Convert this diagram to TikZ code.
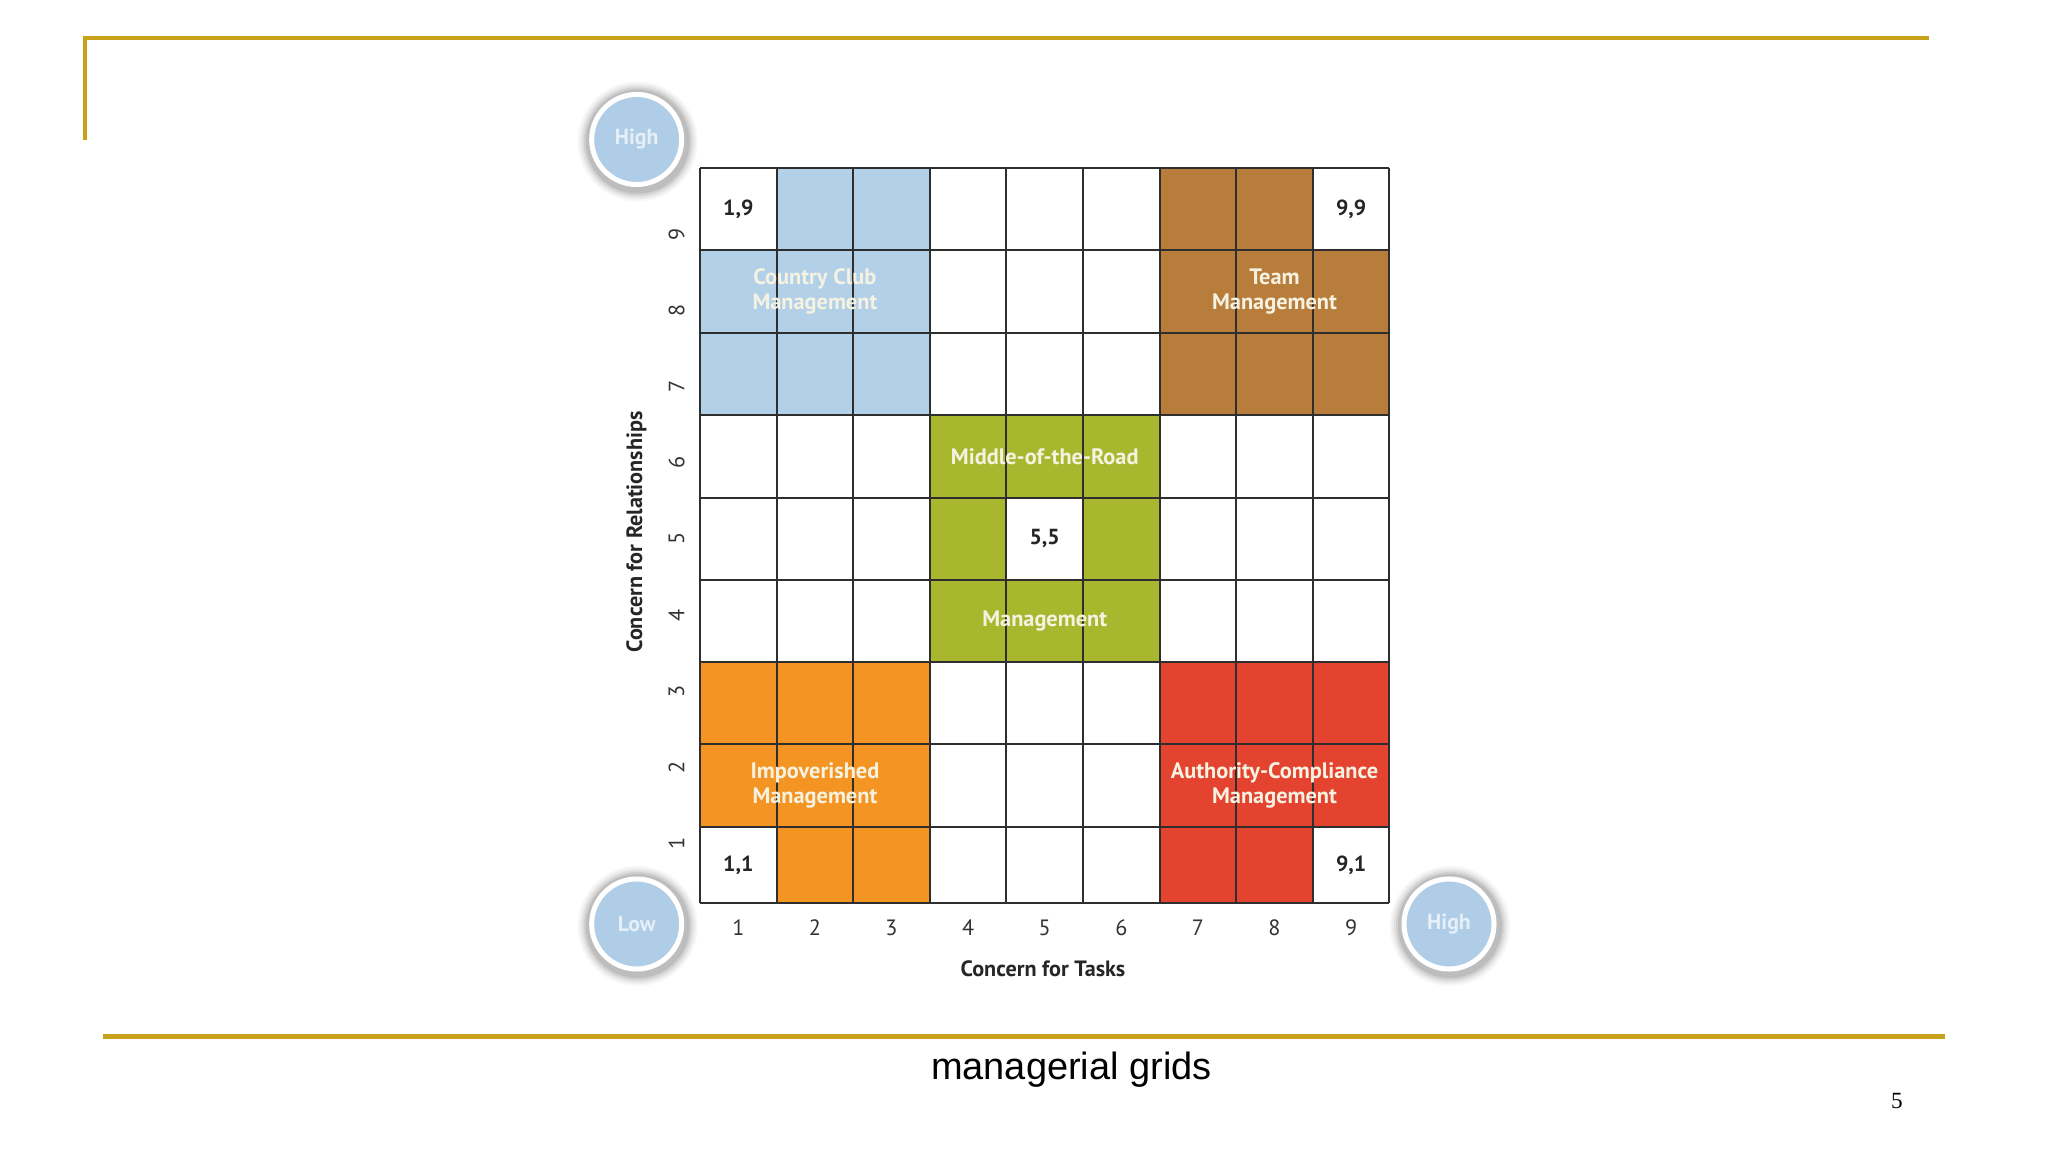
\documentclass[tikz,border=0pt]{standalone}
\usepackage{fontspec}
\setmainfont{Liberation Sans}
\newfontfamily\gridfont{PT Sans}
\newfontfamily\numfont{Liberation Serif}
\definecolor{gold}{HTML}{C9A21B}
\definecolor{ccblue}{HTML}{B2D0E8}
\definecolor{tmbrown}{HTML}{B97D3B}
\definecolor{mrgreen}{HTML}{A9B72F}
\definecolor{imorange}{HTML}{F49422}
\definecolor{acred}{HTML}{E3432F}
\definecolor{gridline}{HTML}{2E2E2E}
\definecolor{circblue}{HTML}{AFCDE7}
\definecolor{labelwhite}{HTML}{F6F2E2}
\definecolor{circtext}{HTML}{E6EFF7}
\tikzset{
  gridln/.style={draw=gridline, line width=2*0.2845pt},
  zonelabel/.style={font=\gridfont\bfseries\fontsize{6.35pt}{7.1pt}\selectfont, text=labelwhite, align=center, inner sep=0pt},
  cornerlabel/.style={font=\gridfont\bfseries\fontsize{6.2pt}{7.1pt}\selectfont, text=black!85, inner sep=0pt},
  axisnum/.style={font=\gridfont\fontsize{6.3pt}{7pt}\selectfont, text=black!80, inner sep=0pt},
  axistitle/.style={font=\gridfont\bfseries\fontsize{6.3pt}{7.1pt}\selectfont, text=black!85, inner sep=0pt},
  levelcirc/.style={circle, minimum size=90*0.2845pt, fill=circblue, draw=white, line width=5*0.2845pt, inner sep=0pt,
    font=\gridfont\bfseries\fontsize{6.2pt}{7.1pt}\selectfont, text=circtext},
  goldline/.style={draw=gold, line width=4*0.2845pt}
}
\begin{document}
\begin{tikzpicture}[x=0.01cm, y=-0.01cm]
\useasboundingbox[fill=white] (0,0) rectangle (2048,1152);
% frame lines
\coordinate (tl) at (85,38);
\coordinate (tr) at (1929,38);
\coordinate (vl) at (85,140);
\draw[goldline] (vl) -- (tl) -- (tr);
\coordinate (bl) at (103,1036.5);
\coordinate (br) at (1945,1036.5);
\draw[goldline, line width=5*0.2845pt] (bl) -- (br);
% coloured zones
\fill[ccblue] (776.6,168) rectangle (929.8,250.5);
\fill[ccblue] (700,250.5) rectangle (929.8,415);
\fill[tmbrown] (1159.6,168) rectangle (1312.8,250.5);
\fill[tmbrown] (1159.6,250.5) rectangle (1389.4,415);
\fill[mrgreen] (929.8,415) rectangle (1159.6,662.3);
\fill[white] (1006.4,497.7) rectangle (1083,580);
\fill[imorange] (700,662.3) rectangle (929.8,826.7);
\fill[imorange] (776.6,826.7) rectangle (929.8,903.3);
\fill[acred] (1159.6,662.3) rectangle (1389.4,826.7);
\fill[acred] (1159.6,826.7) rectangle (1312.8,903.3);
% grid
\foreach \x in {700,776.6,853.2,929.8,1006.4,1083,1159.6,1236.2,1312.8,1389.4}
  \draw[gridln] (\x,168) -- (\x,903.3);
\foreach \y in {168,250.5,332.7,415,497.7,580,662.3,744.3,826.7,903.3}
  \draw[gridln] (700,\y) -- (1389.4,\y);
% corner labels
\node[cornerlabel] (c19) at (738.3,209.2) {1,9};
\node[cornerlabel] (c99) at (1351.1,209.2) {9,9};
\node[cornerlabel] (c11) at (738.3,865) {1,1};
\node[cornerlabel] (c91) at (1351.1,865) {9,1};
\node[cornerlabel] (c55) at (1044.7,538.8) {5,5};
% zone labels
\node[zonelabel] (country) at (814.9,291.6) {Country Club\\Management};
\node[zonelabel] (team) at (1274.5,291.6) {Team\\Management};
\node[zonelabel] (middle) at (1044.7,456.3) {Middle-of-the-Road};
\node[zonelabel] (middlemgmt) at (1044.7,621.2) {Management};
\node[zonelabel] (impov) at (814.9,785.5) {Impoverished\\Management};
\node[zonelabel] (auth) at (1274.5,785.5) {Authority-Compliance\\Management};
% axis numbers
\foreach \i/\x in {1/738.3,2/814.9,3/891.5,4/968.1,5/1044.7,6/1121.3,7/1197.9,8/1274.5,9/1351.1}
  \node[axisnum] (xn\i) at (\x,927.5) {\i};
\foreach \i in {1,...,9}
  \node[axisnum, rotate=90] (yn\i) at (676.5,{234+(9-\i)*76.2}) {\i};
\node[axistitle] (xtitle) at (1043,969) {Concern for Tasks};
\node[axistitle, rotate=90] (ytitle) at (636.5,532) {Concern for Relationships};
% circles with soft shadow
\foreach \cx/\cy in {636.7/139.5, 636.7/924, 1449/924}{
  \foreach \r/\o in {60/0.03,58/0.04,56/0.05,54/0.07,52/0.09}
    \fill[black, opacity=\o] (\cx+1,\cy+2) circle (\r);
}
\node[levelcirc] (hightop) at (636.7,139.5) {High};
\node[levelcirc] (low) at (636.7,924) {Low};
\node[levelcirc] (highright) at (1449,924) {High};
% caption
\node[font=\fontsize{10.8pt}{12pt}\selectfont, inner sep=0pt] (caption) at (1071.5,1070) {managerial grids};
\node[font=\numfont\fontsize{6.6pt}{8pt}\selectfont, inner sep=0pt] (pagenum) at (1897,1101) {5};
\end{tikzpicture}
\end{document}
